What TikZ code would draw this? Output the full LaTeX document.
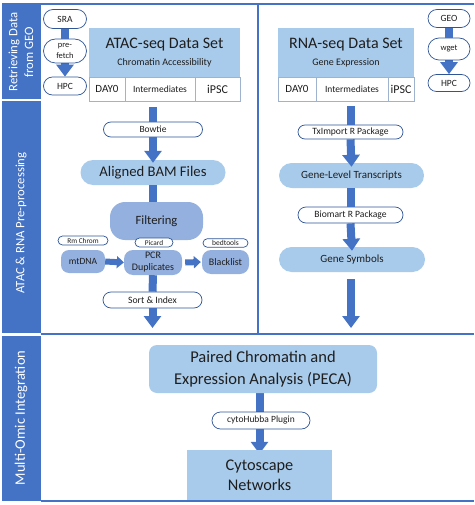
\documentclass[tikz,border=0pt]{standalone}
\usepackage{fontspec}
\setmainfont{Carlito}
\usetikzlibrary{arrows.meta,shapes.misc,backgrounds}
\definecolor{band}{HTML}{4472C4}
\definecolor{lblue}{HTML}{A9CBEB}
\definecolor{mblue}{HTML}{94B0DE}
\definecolor{pillline}{HTML}{2F5597}
\definecolor{cellline}{HTML}{9FB3CF}
\definecolor{txt}{HTML}{1E1E1E}
\newcommand{\fs}[1]{\fontsize{#1}{#1}\selectfont}
\tikzset{
  pill/.style={rounded rectangle, draw=pillline, line width=0.7pt, fill=white, inner sep=0pt, text=txt},
  cell/.style={rectangle, draw=cellline, line width=0.6pt, fill=white, inner sep=0pt, text=txt},
  dsbox/.style={rectangle, fill=lblue, inner sep=0pt, text=txt, align=center},
  oval/.style={rounded rectangle, fill=lblue, inner sep=0pt, text=txt},
  filt/.style={rectangle, fill=mblue, inner sep=0pt, text=txt, align=center},
  bandbox/.style={fill=band, draw=none},
  bandtext/.style={text=white, rotate=90, align=center},
  barrow/.style={draw=band, line width=8pt, -{Triangle[width=17pt,length=12pt]}},
  sarrow/.style={draw=band, line width=6pt, -{Triangle[width=12pt,length=7pt]}},
  shaft/.style={draw=band, line width=8pt},
  sepline/.style={draw=band, line width=1.3pt}
}
\begin{document}
\begin{tikzpicture}[x=1pt,y=-1pt]
\useasboundingbox (0,0) rectangle (474,505);
% side bands
\fill[bandbox] (2,3) rectangle (41,99);
\fill[bandbox] (2,101) rectangle (41,333);
\fill[bandbox] (2,336) rectangle (41,501);
\node[bandtext, font=\fs{12.7}] (b1) at (21,52) {Retrieving Data\\[3pt]from GEO};
\node[bandtext, font=\fs{12.7}] (b2) at (21,223) {ATAC \& RNA Pre-processing};
\node[bandtext, font=\fs{14.5}] (b3) at (21,418) {Multi-Omic Integration};
% frame lines
\draw[sepline] (41,4) -- (474,4);
\draw[sepline] (41,334) -- (474,334);
\draw[sepline] (41,501) -- (474,501);
\draw[sepline] (258,4) -- (258,334);

% retrieving (left)
\node[pill, minimum width=43pt, minimum height=19pt, font=\fs{9.5}] (sra) at (65,19) {SRA};
\node[pill, minimum width=43pt, minimum height=24pt, font=\fs{8.5}, align=center] (pref) at (65,51) {pre-\\[2pt]fetch};
\node[pill, minimum width=43pt, minimum height=18pt, font=\fs{9.5}] (hpcl) at (65,86) {HPC};
% retrieving (right)
\node[pill, minimum width=42pt, minimum height=18pt, font=\fs{9.5}] (geo) at (449,18.5) {GEO};
\node[pill, minimum width=42pt, minimum height=22pt, font=\fs{8.5}] (wget) at (449,49) {wget};
\node[pill, minimum width=42pt, minimum height=17pt, font=\fs{9.5}] (hpcr) at (449,83) {HPC};

% ATAC data set
\node[dsbox, minimum width=151pt, minimum height=49pt] (atac) at (164.5,52.5) {{\fs{16}ATAC-seq Data Set}\\[5pt]{\fs{10}Chromatin Accessibility}};
\node[cell, minimum width=36pt, minimum height=24pt, font=\fs{11}] (ad0) at (107,89) {DAY0};
\node[cell, minimum width=70pt, minimum height=24pt, font=\fs{9.5}] (aint) at (160,89) {Intermediates};
\node[cell, minimum width=45pt, minimum height=24pt, font=\fs{12}] (aips) at (217.5,89) {iPSC};
% RNA data set
\node[dsbox, minimum width=136pt, minimum height=49pt] (rna) at (346,52.5) {{\fs{16}RNA-seq Data Set}\\[5pt]{\fs{10}Gene Expression}};
\node[cell, minimum width=38pt, minimum height=24pt, font=\fs{11}] (rd0) at (297,89) {DAY0};
\node[cell, minimum width=72pt, minimum height=24pt, font=\fs{9.5}] (rint) at (352,89) {Intermediates};
\node[cell, minimum width=26pt, minimum height=24pt, font=\fs{12}] (rips) at (401,89) {iPSC};

% ATAC processing
\node[pill, minimum width=99pt, minimum height=15pt, font=\fs{9.5}] (bowtie) at (153,129.5) {Bowtie};
\node[oval, minimum width=145pt, minimum height=25pt, font=\fs{14.7}] (bam) at (153,172.5) {Aligned BAM Files};
\node[filt, rounded corners=15pt, minimum width=93pt, minimum height=38pt, font=\fs{12.6}] (filt) at (156.5,221) {Filtering};
\node[pill, minimum width=50pt, minimum height=9pt, font=\fs{7.3}] (rmc) at (83,240.5) {Rm Chrom};
\node[filt, rounded corners=8pt, minimum width=44pt, minimum height=23pt, font=\fs{9.5}] (mt) at (83,261.5) {mtDNA};
\node[pill, minimum width=38pt, minimum height=9pt, font=\fs{7.3}] (pic) at (154,242.5) {Picard};
\node[filt, rounded corners=9pt, minimum width=58pt, minimum height=25pt, font=\fs{10}] (pcr) at (153,262.5) {PCR\\[2pt]Duplicates};
\node[pill, minimum width=45pt, minimum height=8.5pt, font=\fs{7.5}] (bed) at (225.5,243) {bedtools};
\node[filt, rounded corners=9pt, minimum width=47pt, minimum height=24pt, font=\fs{10}] (bl) at (225.5,262) {Blacklist};
\node[pill, minimum width=99pt, minimum height=16pt, font=\fs{9.7}] (sort) at (152.5,300) {Sort \& Index};
\coordinate (lend) at (152.5,328);

% RNA processing
\node[pill, minimum width=105pt, minimum height=14pt, font=\fs{9.6}] (tx) at (350.5,132) {TxImport R Package};
\node[oval, minimum width=145pt, minimum height=25pt, font=\fs{11}] (glt) at (351.5,175.5) {Gene-Level Transcripts};
\node[pill, minimum width=105pt, minimum height=16pt, font=\fs{9.6}] (bio) at (350.5,215) {Biomart R Package};
\node[oval, minimum width=146pt, minimum height=25pt, font=\fs{11}] (gs) at (352,259.5) {Gene Symbols};
\coordinate (rend) at (351,328);

% integration
\node[dsbox, rounded corners=8pt, minimum width=228pt, minimum height=48pt, font=\fs{16.5}] (peca) at (263,369) {Paired Chromatin and\\[5pt]Expression Analysis (PECA)};
\node[pill, minimum width=98pt, minimum height=17pt, font=\fs{9.5}] (cyto) at (261,420.5) {cytoHubba Plugin};
\node[dsbox, minimum width=145pt, minimum height=50pt, font=\fs{16.3}] (cys) at (259.5,475) {Cytoscape\\[3.5pt]Networks};

\begin{scope}[on background layer]
\draw[barrow] (sra.south) -- (hpcl.north);
\draw[barrow] (geo.south) -- (hpcr.north);
\draw[barrow] (peca.south -| cys.north) -- ([yshift=-4pt]cys.north);
\end{scope}
% connectors
\draw[shaft] ([yshift=-6pt]aint.south -| bowtie.north) -- (bowtie.north);
\draw[barrow] (bowtie.south) -- ([yshift=-3pt]bam.north);
\draw[shaft] (bam.south) -- (bam.south |- filt.north);
\draw[sarrow] (mt.east) -- (pcr.west);
\draw[sarrow] ([xshift=3pt]pcr.east) -- ([xshift=-1pt]bl.west);
\draw[shaft] (pcr.south) -- (sort.north);
\draw[barrow] (sort.south) -- (lend);
\draw[shaft] ([yshift=-5pt]rint.south -| tx.north) -- (tx.north);
\draw[barrow] (tx.south) -- ([yshift=-4pt]glt.north);
\draw[shaft] (glt.south -| bio.north) -- (bio.north);
\draw[barrow] (bio.south) -- ([yshift=-4pt]gs.north);
\draw[barrow] ([yshift=-7pt]gs.south -| rend) -- (rend);
\end{tikzpicture}
\end{document}
